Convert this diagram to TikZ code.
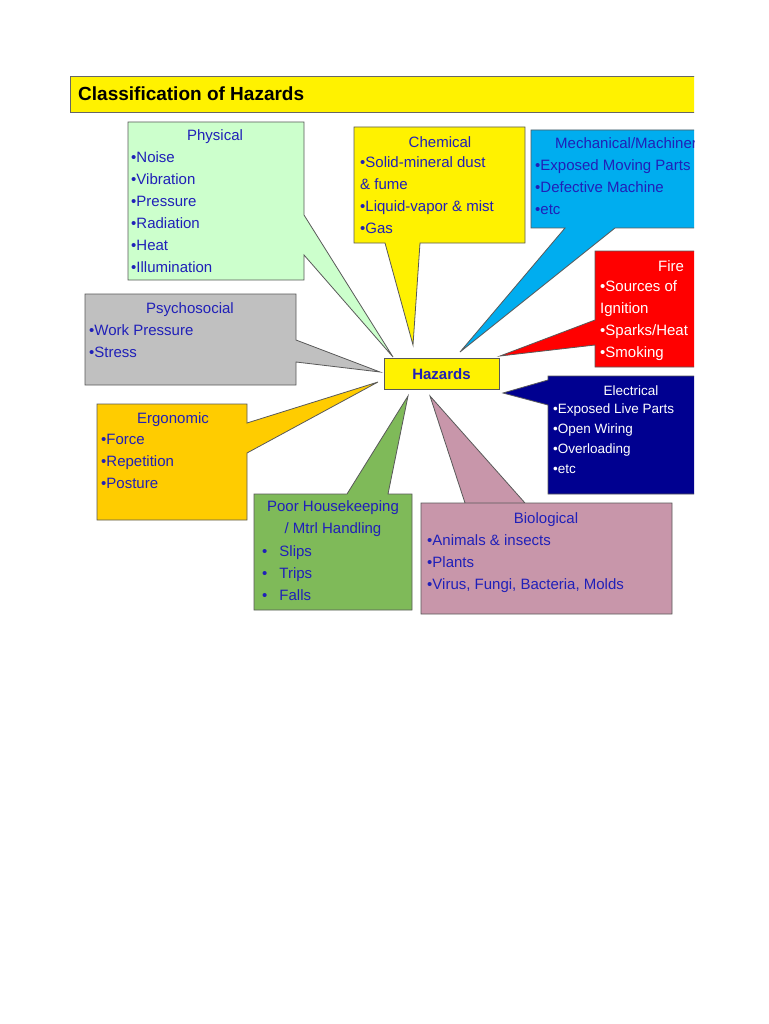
\documentclass[tikz,border=0pt]{standalone}
\usepackage{fontspec}
\setmainfont{Liberation Sans}
\definecolor{txt}{HTML}{2020B8}
\definecolor{lgreen}{HTML}{CCFFCC}
\definecolor{grey}{HTML}{C0C0C0}
\definecolor{ergo}{HTML}{FFCC00}
\definecolor{navy}{HTML}{000090}
\definecolor{hgreen}{HTML}{7FBA59}
\definecolor{mauve}{HTML}{C896AA}
\begin{document}
\begin{tikzpicture}[x=1pt,y=-1pt,
  call/.style={draw=black!65,line width=0.8pt},
  tt/.style={font=\fontsize{15}{22}\selectfont,text=txt,inner sep=0pt},
  lst/.style={tt,align=left,anchor=north west},
  ttw/.style={tt,text=white},
  lstw/.style={lst,text=white}]
\useasboundingbox (0,0) rectangle (768,1024);
\begin{scope}
\clip (0,0) rectangle (694,1024);
% title
\fill[yellow,draw=black!60] (70,76) rectangle (700,112);
\node[anchor=west,inner sep=0pt,font=\bfseries\fontsize{19}{22}\selectfont] (ttl) at (78,94) {Classification of Hazards};
% callouts
\draw[call,fill=lgreen] (128,122) -- (304,122) -- (304,215) -- (393,357) -- (304,255) -- (304,280) -- (128,280) -- cycle;
\draw[call,fill=yellow] (354,127) -- (525,127) -- (525,243) -- (420,243) -- (413,345) -- (385,243) -- (354,243) -- cycle;
\draw[call,fill=cyan] (531,130) -- (700,130) -- (700,228) -- (615,228) -- (460,352) -- (565,228) -- (531,228) -- cycle;
\draw[call,fill=red] (595,251) -- (700,251) -- (700,367) -- (595,367) -- (595,345) -- (500,356) -- (595,320) -- cycle;
\draw[call,fill=grey] (85,294) -- (296,294) -- (296,340) -- (380,372) -- (296,362) -- (296,385) -- (85,385) -- cycle;
\draw[call,fill=ergo] (97,404) -- (247,404) -- (247,423) -- (378,382) -- (247,453) -- (247,520) -- (97,520) -- cycle;
\draw[call,fill=navy] (548,376) -- (700,376) -- (700,494) -- (548,494) -- (548,405) -- (503,393) -- (548,380) -- cycle;
\draw[call,fill=hgreen] (254,494) -- (347,494) -- (408,396) -- (388,494) -- (412,494) -- (412,610) -- (254,610) -- cycle;
\draw[call,fill=mauve] (421,503) -- (525,503) -- (430,396) -- (465,503) -- (672,503) -- (672,614) -- (421,614) -- (421,503) -- cycle;
\node[draw=black!65,line width=0.8pt,fill=yellow,minimum width=115pt,minimum height=31pt,inner sep=0pt] (hz) at (441.5,373.5) {};
\node[tt,font=\bfseries\fontsize{15}{22}\selectfont] (hzt) at (441.5,374) {Hazards};
% texts
\node[tt] (t1) at (215,137) {Physical};
\node[lst] (l1) at (131,151) {•Noise\\•Vibration\\•Pressure\\•Radiation\\•Heat\\•Illumination};
\node[tt] (t2) at (440,142) {Chemical};
\node[lst] (l2) at (360,156) {•Solid-mineral dust\\\& fume\\•Liquid-vapor \& mist\\•Gas};
\node[tt,anchor=west] (t3) at (555,145) {Mechanical/Machinery};
\node[lst] (l3) at (535,159) {•Exposed Moving Parts\\•Defective Machine\\•etc};
\node[ttw] (t4) at (671,266) {Fire};
\node[lstw] (l4) at (600,280) {•Sources of\\Ignition\\•Sparks/Heat\\•Smoking};
\node[tt] (t5) at (190,310) {Psychosocial};
\node[lst] (l5) at (89,324) {•Work Pressure\\•Stress};
\node[tt] (t6) at (173,420) {Ergonomic};
\node[lst] (l6) at (101,434) {•Force\\•Repetition\\•Posture};
\node[ttw,font=\fontsize{13.5}{20}\selectfont] (t7) at (631,391) {Electrical};
\node[lstw,font=\fontsize{13.5}{19.7}\selectfont] (l7) at (553,404) {•Exposed Live Parts\\•Open Wiring\\•Overloading\\•etc};
\node[tt,align=center] (t8) at (333,519) {Poor Housekeeping\\/ Mtrl Handling};
\node[lst] (l8) at (262,545) {•\hspace{12pt}Slips\\•\hspace{12pt}Trips\\•\hspace{12pt}Falls};
\node[tt] (t9) at (546,520) {Biological};
\node[lst] (l9) at (427,534) {•Animals \& insects\\•Plants\\•Virus, Fungi, Bacteria, Molds};
\end{scope}
\end{tikzpicture}
\end{document}
